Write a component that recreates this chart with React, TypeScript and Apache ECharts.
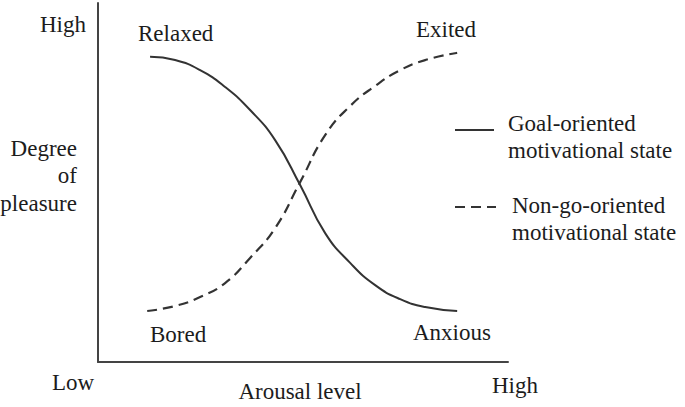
import React, { useEffect, useRef } from "react";
import * as echarts from "echarts";

const goalX = [1.27, 1.88, 2.49, 3.1, 3.71, 4.32, 4.93, 5.54, 6.15, 6.76, 7.37, 7.98, 8.76];
const goalY = [8.5, 8.41, 8.13, 7.66, 7.02, 6.18, 4.93, 3.59, 2.76, 2.14, 1.75, 1.53, 1.42];
const nonGoalX = [1.2, 1.88, 2.49, 3.1, 3.71, 4.32, 4.93, 5.54, 6.15, 6.76, 7.37, 7.98, 8.76];
const nonGoalY = [1.42, 1.56, 1.81, 2.2, 2.9, 3.73, 5.01, 6.32, 7.13, 7.69, 8.13, 8.41, 8.61];

const seriesNames = ["Goal-oriented\nmotivational state", "Non-go-oriented\nmotivational state"];
const cornerLabels = ["Relaxed", "Exited", "Bored", "Anxious"];

const FONT = "'Liberation Serif'";
const TXT = "#1c1c1c";
const LINE = "#333333";

export default function App() {
  const ref = useRef<HTMLDivElement>(null);
  useEffect(() => {
    if (!ref.current) return;
    const chart = echarts.init(ref.current, null, { renderer: "svg" });
    const t = (text: string, x: number, y: number, align: string = "left") => ({
      type: "text",
      x,
      y,
      style: {
        text,
        fill: TXT,
        fontFamily: FONT,
        fontSize: 23,
        align,
        verticalAlign: "middle",
      },
    });
    const [goalName, nonGoalName] = seriesNames.map((s) => s.split("\n"));
    chart.setOption({
      animation: false,
      backgroundColor: "#ffffff",
      grid: { left: 98, top: 3, width: 410, bottom: 45 },
      xAxis: {
        type: "value",
        min: 0,
        max: 10,
        axisLine: { show: true, lineStyle: { color: "#444", width: 2 } },
        axisTick: { show: false },
        axisLabel: { show: false },
        splitLine: { show: false },
      },
      yAxis: {
        type: "value",
        min: 0,
        max: 10,
        axisLine: { show: true, lineStyle: { color: "#444", width: 2 } },
        axisTick: { show: false },
        axisLabel: { show: false },
        splitLine: { show: false },
      },
      series: [
        {
          name: seriesNames[0],
          type: "line",
          data: goalX.map((x, i) => [x, goalY[i]]),
          smooth: 0.5,
          showSymbol: false,
          lineStyle: { color: LINE, width: 2 },
        },
        {
          name: seriesNames[1],
          type: "line",
          data: nonGoalX.map((x, i) => [x, nonGoalY[i]]),
          smooth: 0.5,
          showSymbol: false,
          lineStyle: { color: LINE, width: 2.2, type: [10, 6] },
        },
      ],
      graphic: [
        t("High", 86, 24, "right"),
        t(cornerLabels[0], 138, 33),
        t(cornerLabels[1], 416, 29),
        t(cornerLabels[2], 150, 334),
        t(cornerLabels[3], 413, 332),
        t("Degree", 77, 148, "right"),
        t("of", 77, 175, "right"),
        t("pleasure", 77, 203, "right"),
        t("Low", 52, 382),
        t("High", 492, 385),
        t("Arousal level", 300, 391, "center"),
        {
          type: "line",
          shape: { x1: 455, y1: 130, x2: 494, y2: 130 },
          style: { stroke: LINE, lineWidth: 2 },
        },
        {
          type: "line",
          shape: { x1: 455, y1: 207, x2: 496, y2: 207 },
          style: { stroke: LINE, lineWidth: 2.2, lineDash: [10, 6] },
        },
        t(goalName[0], 508, 123),
        t(goalName[1], 508, 150),
        t(nonGoalName[0], 512, 205),
        t(nonGoalName[1], 512, 232),
      ],
    });
    return () => chart.dispose();
  }, []);
  return (
    <div
      ref={ref}
      style={{ position: "fixed", left: 0, top: 0, width: 685, height: 407, background: "#fff" }}
    />
  );
}
